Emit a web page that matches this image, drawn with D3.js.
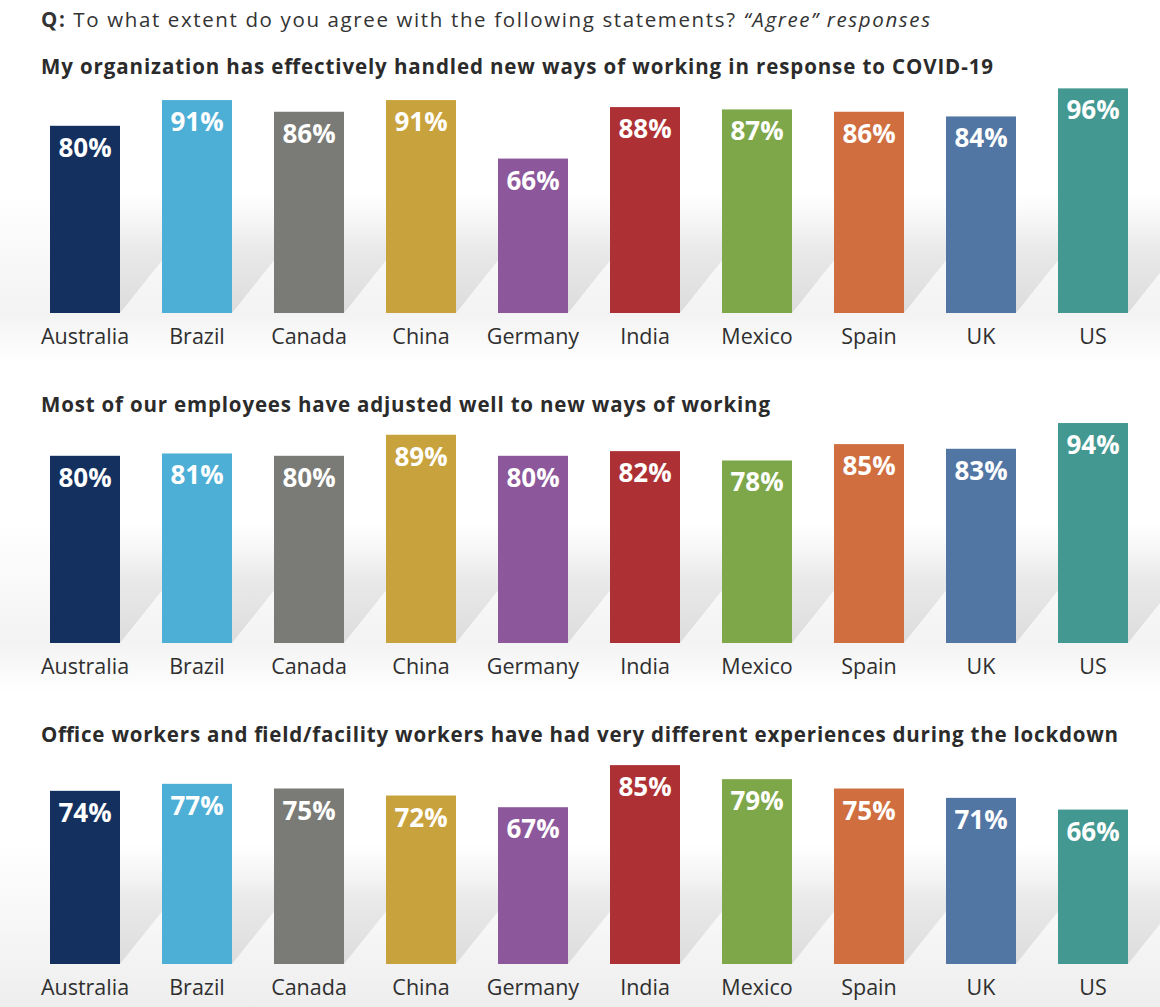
<!DOCTYPE html>
<html>
<head>
<meta charset="utf-8">
<script src="https://cdn.jsdelivr.net/npm/d3@7"></script>
<style>
  body { margin: 0; background: #fff; }
  svg { display: block; font-family: "Open Sans", sans-serif; }
</style>
</head>
<body>
<script>
var countries = ["Australia", "Brazil", "Canada", "China", "Germany", "India", "Mexico", "Spain", "UK", "US"];
var barColors = ["#13305f", "#4eafd6", "#7a7b76", "#c8a23c", "#8c579b", "#ad3134", "#7ea74a", "#d06e40", "#5276a4", "#439992"];

var orgHandled = [80, 91, 86, 91, 66, 88, 87, 86, 84, 96];
var employeesAdjusted = [80, 81, 80, 89, 80, 82, 78, 85, 83, 94];
var differentExperiences = [74, 77, 75, 72, 67, 85, 79, 75, 71, 66];

var panelTitles = [
  "My organization has effectively handled new ways of working in response to COVID-19",
  "Most of our employees have adjusted well to new ways of working",
  "Office workers and field/facility workers have had very different experiences during the lockdown"
];

var width = 1160, height = 1007;
var panels = [
  { title: panelTitles[0], values: orgHandled, base: 313, titleY: 74, titleW: 952 },
  { title: panelTitles[1], values: employeesAdjusted, base: 643, titleY: 412, titleW: 729 },
  { title: panelTitles[2], values: differentExperiences, base: 964, titleY: 742, titleW: 1077 }
];

var svg = d3.select("body").append("svg")
    .attr("width", width)
    .attr("height", height);

var defs = svg.append("defs");

var shade = defs.append("linearGradient")
    .attr("id", "shade")
    .attr("x1", 0).attr("y1", 1).attr("x2", 0).attr("y2", 0);
shade.append("stop").attr("offset", "0%").attr("stop-color", "#dcdcdc").attr("stop-opacity", 1);
shade.append("stop").attr("offset", "55%").attr("stop-color", "#e6e6e6").attr("stop-opacity", 0.8);
shade.append("stop").attr("offset", "100%").attr("stop-color", "#f4f4f4").attr("stop-opacity", 0);

// soft grey floor: fades in towards the baseline and back out below it
var floor = defs.append("linearGradient")
    .attr("id", "floor")
    .attr("x1", 0).attr("y1", 0).attr("x2", 0).attr("y2", 1);
floor.append("stop").attr("offset", "0%").attr("stop-color", "#ffffff");
floor.append("stop").attr("offset", "70%").attr("stop-color", "#f3f3f3");
floor.append("stop").attr("offset", "100%").attr("stop-color", "#ffffff");

var bottomFloor = defs.append("linearGradient")
    .attr("id", "bottomFloor")
    .attr("x1", 0).attr("y1", 0).attr("x2", 0).attr("y2", 1);
bottomFloor.append("stop").attr("offset", "0%").attr("stop-color", "#ffffff");
bottomFloor.append("stop").attr("offset", "100%").attr("stop-color", "#eeeeee");

var x = d3.scaleBand()
    .domain(countries)
    .range([29, 1149])
    .paddingInner(0.375)
    .paddingOuter(0.1875);

// question line
var q = svg.append("text")
    .attr("x", 41)
    .attr("y", 27)
    .attr("font-size", 20.5)
    .attr("textLength", 889)
    .attr("lengthAdjust", "spacing")
    .attr("fill", "#333");
q.append("tspan").attr("font-weight", "bold").text("Q:");
q.append("tspan").text(" To what extent do you agree with the following statements? ");
q.append("tspan").attr("font-style", "italic").text("\u201cAgree\u201d responses");

panels.forEach(function(p, k) {
  var y = d3.scaleLinear().domain([0, 100]).range([p.base, p.base - 234]);
  var g = svg.append("g");

  if (k < 2) {
    g.append("rect")
      .attr("x", 0).attr("y", p.base - 120)
      .attr("width", width).attr("height", 170)
      .attr("fill", "url(#floor)");
  } else {
    g.append("rect")
      .attr("x", 0).attr("y", p.base - 120)
      .attr("width", width).attr("height", height - p.base + 120)
      .attr("fill", "url(#bottomFloor)");
  }

  g.append("text")
    .attr("x", 41)
    .attr("y", p.titleY)
    .attr("font-size", 20.5)
    .attr("font-weight", "bold")
    .attr("textLength", p.titleW)
    .attr("lengthAdjust", "spacing")
    .attr("fill", "#2b2b2b")
    .text(p.title);

  // diagonal shadows cast to the right of each bar
  g.selectAll(".shadow")
    .data(countries)
    .enter().append("path")
    .attr("class", "shadow")
    .attr("fill", "url(#shade)")
    .attr("d", function(d) {
      var r = x(d) + x.bandwidth(), b = y(0), gap = x.step() - x.bandwidth();
      return "M" + r + "," + b +
             "L" + (r + gap) + "," + (b - gap * 1.25) +
             "L" + (r + gap) + "," + (b - 120) +
             "L" + r + "," + (b - 120) + "Z";
    });

  g.selectAll(".bar")
    .data(p.values)
    .enter().append("rect")
    .attr("class", "bar")
    .attr("x", function(d, i) { return x(countries[i]); })
    .attr("y", function(d) { return y(d); })
    .attr("width", x.bandwidth())
    .attr("height", function(d) { return y(0) - y(d); })
    .attr("fill", function(d, i) { return barColors[i]; });

  g.selectAll(".val")
    .data(p.values)
    .enter().append("text")
    .attr("class", "val")
    .attr("x", function(d, i) { return x(countries[i]) + x.bandwidth() / 2; })
    .attr("y", function(d) { return y(d) + 31; })
    .attr("text-anchor", "middle")
    .attr("font-size", 26)
    .attr("font-weight", "bold")
    .attr("fill", "#fff")
    .text(function(d) { return d + "%"; });

  g.selectAll(".lab")
    .data(countries)
    .enter().append("text")
    .attr("class", "lab")
    .attr("x", function(d) { return x(d) + x.bandwidth() / 2; })
    .attr("y", p.base + 31)
    .attr("text-anchor", "middle")
    .attr("font-size", 21.5)
    .attr("fill", "#2f2f2f")
    .text(function(d) { return d; });
});
</script>
</body>
</html>
